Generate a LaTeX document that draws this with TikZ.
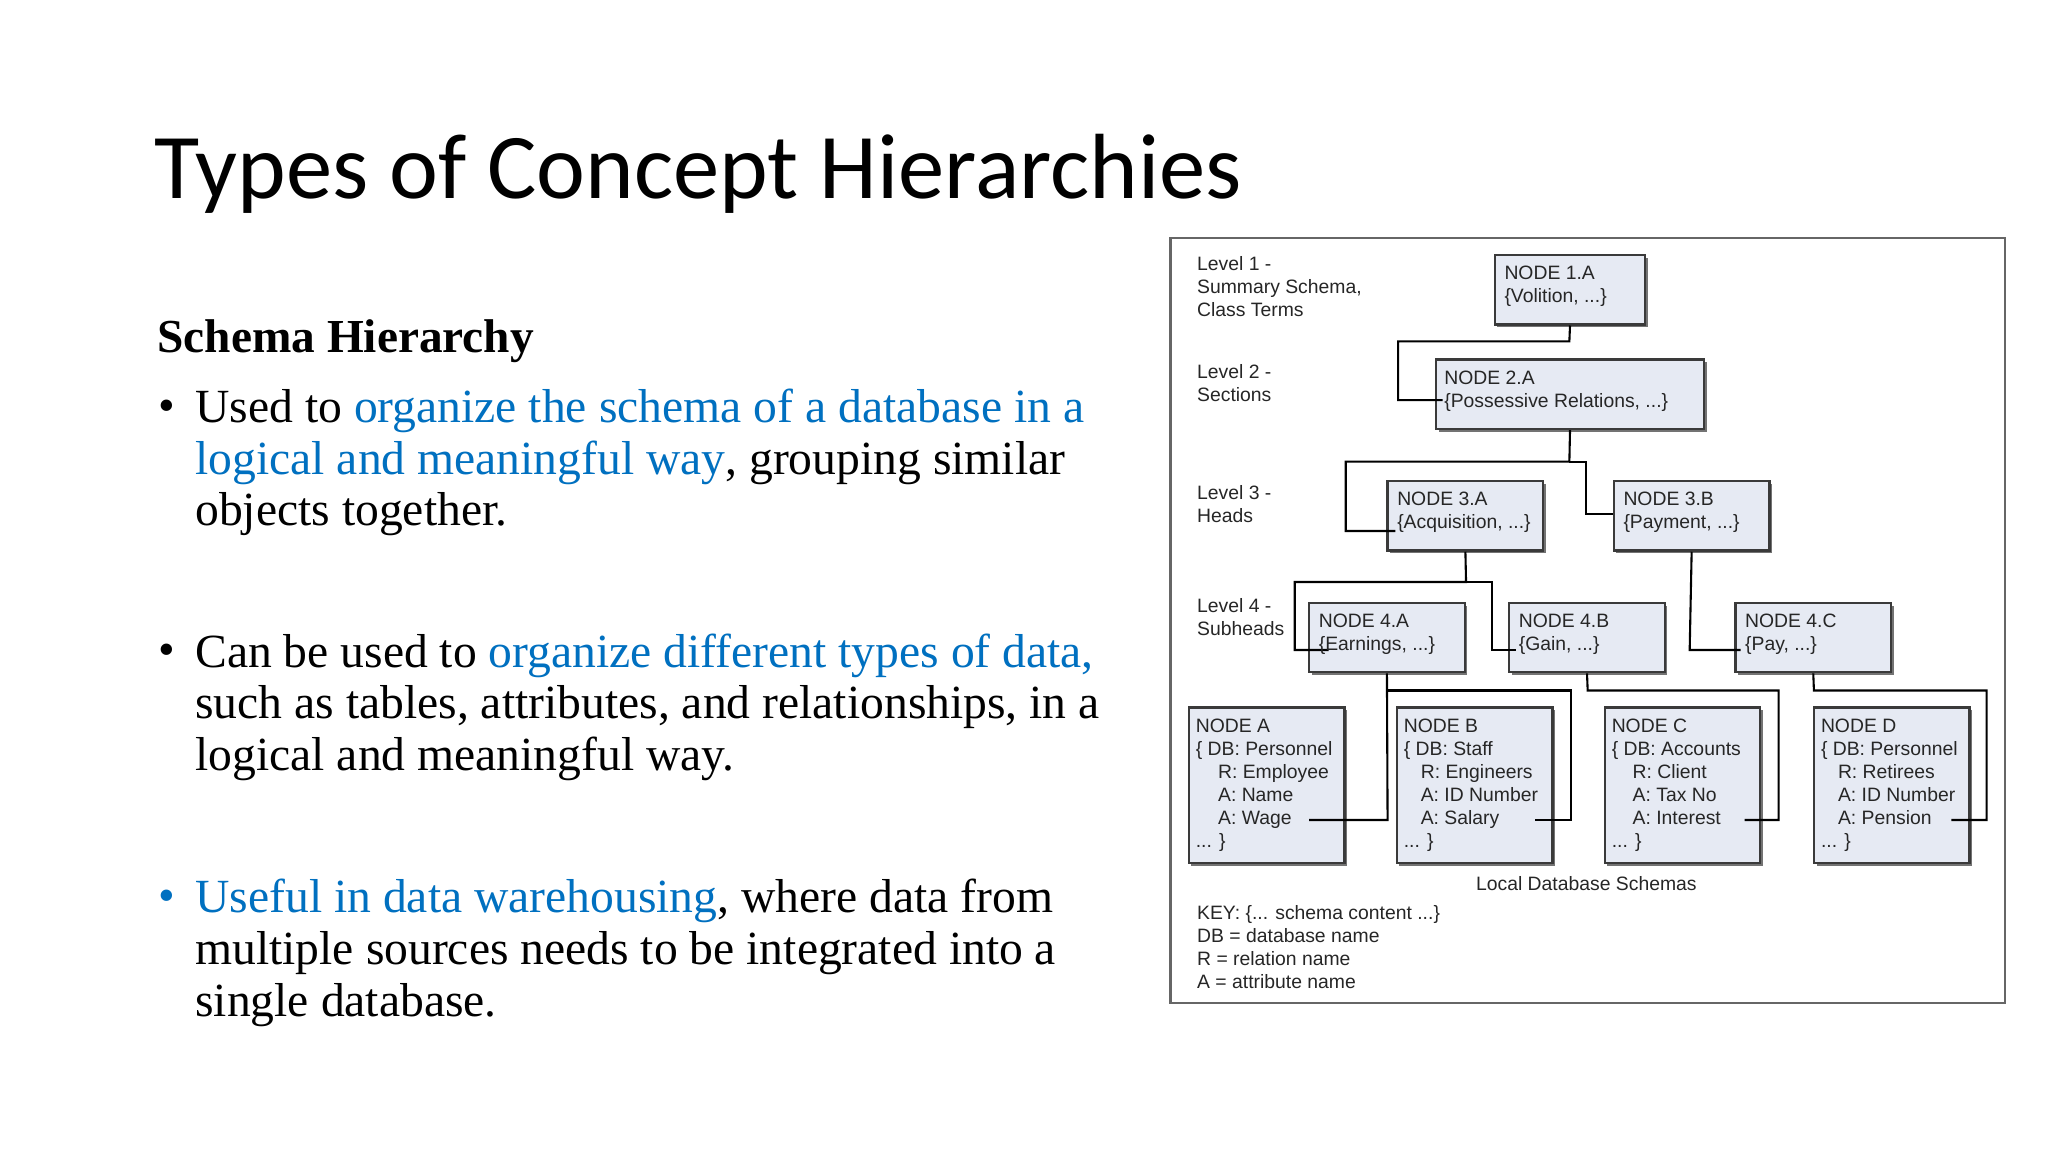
\documentclass[tikz,border=0pt]{standalone}
\usepackage{fontspec}
\setmainfont{Liberation Serif}
\newfontfamily\titlefont{Carlito}
\newfontfamily\diafont{Liberation Sans}
\definecolor{hl}{HTML}{0070C0}
\definecolor{boxfill}{HTML}{E6EAF3}
\definecolor{boxline}{HTML}{3A3A3A}
\begin{document}
\begin{tikzpicture}[x=0.5pt,y=-0.5pt,
  box/.style={draw=boxline,line width=0.9pt,fill=boxfill,inner sep=0pt},
  lbl/.style={anchor=west,inner sep=0pt,font=\diafont\fontsize{7.4}{8.8}\selectfont,text=black!85},
  conn/.style={draw=black,line width=0.8pt},
  body/.style={anchor=west,inner sep=0pt,font=\fontsize{18.2}{19.75}\selectfont,align=left}]
\useasboundingbox[fill=white] (0,0) rectangle (1566,881);
% title
\node[anchor=west,inner sep=0pt,font=\titlefont\fontsize{35.4}{40}\selectfont] (title) at (118,133) {Types of Concept Hierarchies};
\node[anchor=west,inner sep=0pt,font=\bfseries\fontsize{18.1}{20}\selectfont] (sub) at (120,261) {Schema Hierarchy};
% bullets
\node[body] (b1d) at (121,314) {\textbullet};
\node[body,anchor=north west] (b1) at (149,297) {Used to \textcolor{hl}{organize the schema of a database in a}\\\textcolor{hl}{logical and meaningful way}, grouping similar\\objects together.};
\node[body] (b2d) at (121,501) {\textbullet};
\node[body,anchor=north west] (b2) at (149,484) {Can be used to \textcolor{hl}{organize different types of data,}\\such as tables, attributes, and relationships, in a\\logical and meaningful way.};
\node[body,text=hl] (b3d) at (121,689) {\textbullet};
\node[body,anchor=north west] (b3) at (149,672) {\textcolor{hl}{Useful in data warehousing}, where data from\\multiple sources needs to be integrated into a\\single database.};
% frame
\draw[draw=black!60,line width=1pt] (895,182) rectangle (1533,767);
% boxes
\foreach \n/\a/\b/\c/\d in {n1a/1143/195/1258/248, n2a/1098/275/1303/328, n3a/1061/368/1180/421, n3b/1234/368/1353/421,
  n4a/1001/461/1120/514, n4b/1154/461/1273/514, n4c/1327/461/1446/514,
  na/909/541/1028/660, nb/1068/541/1187/660, nc/1227/541/1346/660, nd/1387/541/1506/660}{
  \fill[black!55] (\a+2,\b+2) rectangle (\c+2,\d+2);
  \node[box,minimum width=(\c-\a)*0.5pt,minimum height=(\d-\b)*0.5pt] (\n) at ({(\a+\c)/2},{(\b+\d)/2}) {};
}
% connectors
\draw[conn] (n1a.south) -- (1200,261) -- (1069,261) -- (1069,306) -- (1103,306);
\draw[conn] (n2a.south) -- (1200,353) -- (1029,353) -- (1029,406) -- (1067,406);
\draw[conn] (1200,353) -- (1213,353) -- (1213,393) -- (n3b.west |- 0,393);
\draw[conn] (n3a.south) -- (1121,445) -- (990,445) -- (990,497) -- (1016,497);
\draw[conn] (1121,445) -- (1141,445) -- (1141,497) -- (1159,497);
\draw[conn] (n3b.south) -- (1292,497) -- (1331,497);
\draw[conn] (n4a.south) -- (1061,627) -- (1001,627);
\draw[conn] (1061,528) -- (1201,528) -- (1201,627) -- (1174,627);
\draw[conn] (n4b.south) -- (1214,528) -- (1360,528) -- (1360,627) -- (1334,627);
\draw[conn] (n4c.south) -- (1387,528) -- (1519,528) -- (1519,627) -- (1492,627);
% level labels
\node[lbl,align=left,anchor=north west] (l1) at (915,196) {Level 1 -\\Summary Schema,\\Class Terms};
\node[lbl,align=left,anchor=north west] (l2) at (915,278) {Level 2 -\\Sections};
\node[lbl,align=left,anchor=north west] (l3) at (915,371) {Level 3 -\\Heads};
\node[lbl,align=left,anchor=north west] (l4) at (915,457) {Level 4 -\\Subheads};
% node texts
\node[lbl,align=left,anchor=north west] (t1a) at (1150,203) {NODE 1.A\\\{Volition, ...\}};
\node[lbl,align=left,anchor=north west] (t2a) at (1104,283) {NODE 2.A\\\{Possessive Relations, ...\}};
\node[lbl,align=left,anchor=north west] (t3a) at (1068,376) {NODE 3.A\\\{Acquisition, ...\}};
\node[lbl,align=left,anchor=north west] (t3b) at (1241,376) {NODE 3.B\\\{Payment, ...\}};
\node[lbl,align=left,anchor=north west] (t4a) at (1008,469) {NODE 4.A\\\{Earnings, ...\}};
\node[lbl,align=left,anchor=north west] (t4b) at (1161,469) {NODE 4.B\\\{Gain, ...\}};
\node[lbl,align=left,anchor=north west] (t4c) at (1334,469) {NODE 4.C\\\{Pay, ...\}};
\node[lbl,align=left,anchor=north west] (ta) at (914,549) {NODE A\\\{ DB: Personnel\\\hspace*{8.5pt}R: Employee\\\hspace*{8.5pt}A: Name\\\hspace*{8.5pt}A: Wage\\... \}};
\node[lbl,align=left,anchor=north west] (tb) at (1073,549) {NODE B\\\{ DB: Staff\\\hspace*{6.5pt}R: Engineers\\\hspace*{6.5pt}A: ID Number\\\hspace*{6.5pt}A: Salary\\... \}};
\node[lbl,align=left,anchor=north west] (tc) at (1232,549) {NODE C\\\{ DB: Accounts\\\hspace*{8pt}R: Client\\\hspace*{8pt}A: Tax No\\\hspace*{8pt}A: Interest\\... \}};
\node[lbl,align=left,anchor=north west] (td) at (1392,549) {NODE D\\\{ DB: Personnel\\\hspace*{6.5pt}R: Retirees\\\hspace*{6.5pt}A: ID Number\\\hspace*{6.5pt}A: Pension\\... \}};
\node[lbl,anchor=center] (ldb) at (1213,676) {Local Database Schemas};
\node[lbl,align=left,anchor=north west] (key) at (915,692) {KEY: \{... schema content ...\}\\DB = database name\\R = relation name\\A = attribute name};
\end{tikzpicture}
\end{document}
